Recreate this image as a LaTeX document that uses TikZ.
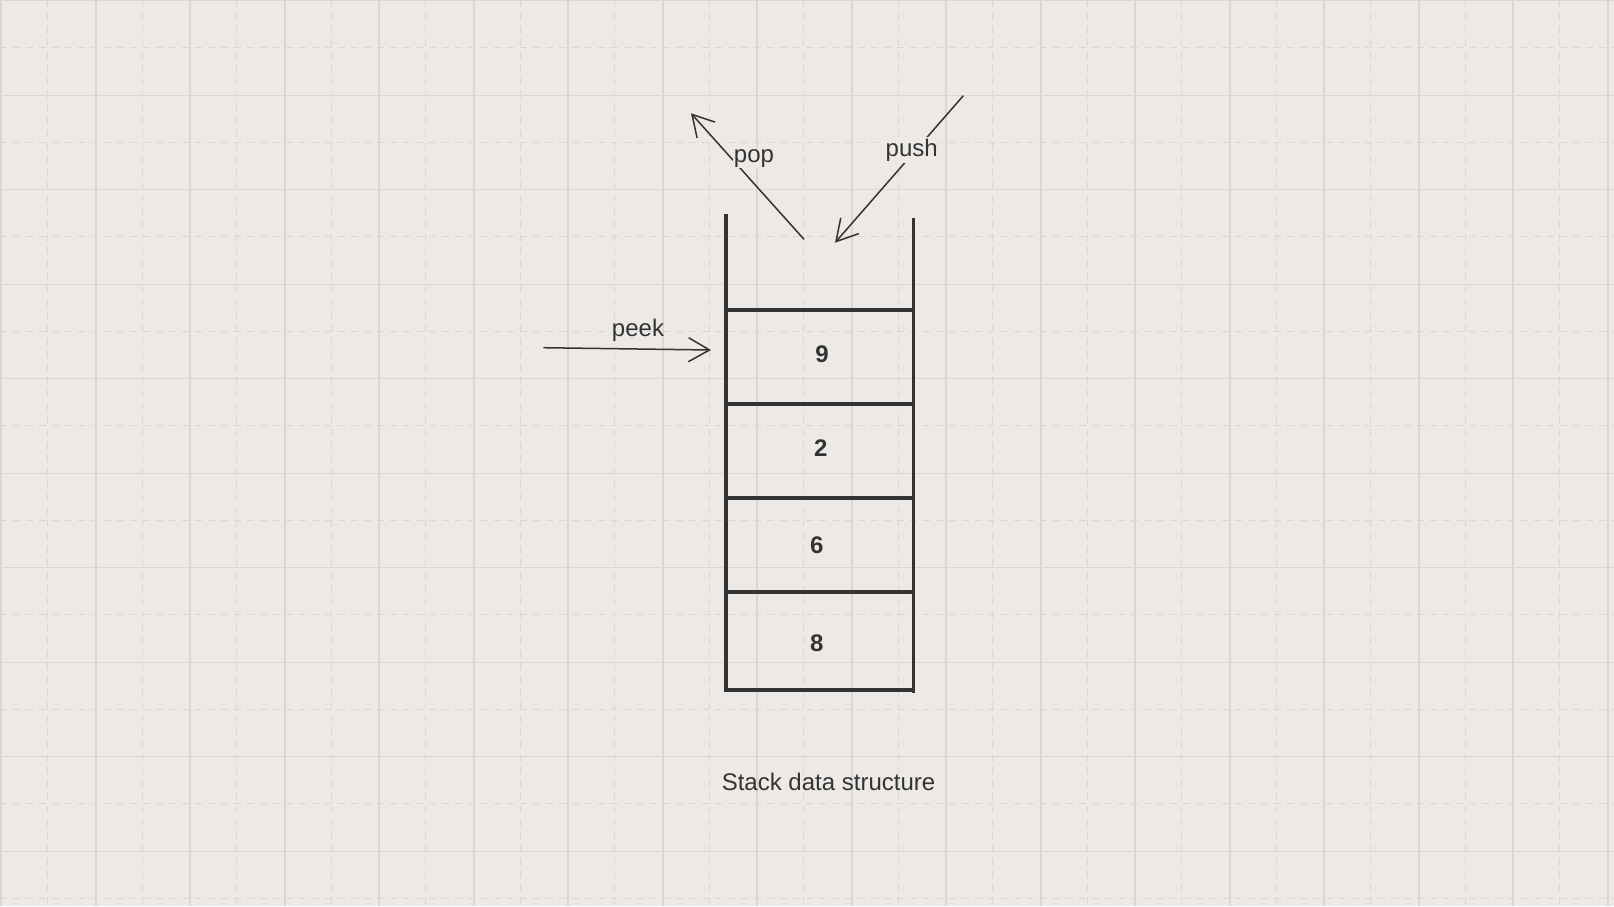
\documentclass[tikz,border=0pt]{standalone}
\usepackage{fontspec}
\setmainfont{Liberation Sans}
\usetikzlibrary{arrows.meta}
\definecolor{bg}{HTML}{ECE9E6}
\definecolor{gridc}{HTML}{D9D6D4}
\definecolor{ink}{HTML}{333333}
\begin{document}
\begin{tikzpicture}[x=1pt,y=-1pt,
  wall/.style={draw=ink,line width=3.2pt,line join=miter},
  arr/.style={draw=ink,line width=1.5pt,-{Straight Barb[length=21pt,width=24pt,line width=1.5pt]}},
  lbl/.style={text=ink,font=\fontsize{24}{28}\selectfont,inner sep=1pt},
  num/.style={text=ink,font=\bfseries\fontsize{24}{28}\selectfont,inner sep=0pt},
  gridsolid/.style={draw=gridc,line width=1.4pt},
  griddash/.style={draw=gridc,line width=1.2pt,dash pattern=on 7pt off 6pt}]
\useasboundingbox (0,0) rectangle (1614,906);
\fill[bg] (0,0) rectangle (1614,906);
% grid
\foreach \i in {0,...,17}{
  \pgfmathsetmacro\xs{round(94.5*\i)+1}
  \pgfmathsetmacro\xd{round(94.5*\i+47.25)+0.5}
  \draw[griddash] (\xd,0) -- ++(0,906);
  \draw[gridsolid] (\xs,0) -- ++(0,906);
}
\foreach \j in {0,...,9}{
  \pgfmathsetmacro\ys{round(94.5*\j)+0.5}
  \pgfmathsetmacro\yd{round(94.5*\j+47.25)+0.5}
  \draw[griddash] (0,\yd) -- ++(1614,0);
  \draw[gridsolid] (0,\ys) -- ++(1614,0);
}
% stack
\coordinate (lt) at (726,214);
\coordinate (lb) at (726,690);
\coordinate (rt) at (913.7,218);
\coordinate (rb) at (913.7,693);
\draw[wall] (lt) -- (lb) -- (913.7,690);
\draw[wall] (rt) -- (rb);
\foreach \y in {310,404,498,592}{
  \draw[wall] (726,\y) -- (913.7,\y);
}
\node[num] (n9) at (822,353.8) {9};
\node[num] (n2) at (820.7,447.7) {2};
\node[num] (n6) at (816.7,545.7) {6};
\node[num] (n8) at (816.7,643.3) {8};
% pop
\coordinate (popS) at (804,239.3);
\coordinate (popE) at (691,113.3);
\draw[arr] (popS) -- (popE);
\node[lbl,fill=bg,inner sep=0.5pt] (popL) at (754,158.3) {pop};
% push
\coordinate (pushS) at (963.3,95.7);
\coordinate (pushE) at (835,242.7);
\draw[arr] (pushS) -- (pushE);
\node[lbl,fill=bg,inner sep=2pt] (pushL) at (911.7,150) {push};
% peek
\coordinate (peekS) at (543.3,347.7);
\coordinate (peekE) at (711,350);
\draw[arr] (peekS) -- (peekE);
\node[lbl] (peekL) at (638,330) {peek};
% caption
\node[lbl] (cap) at (828.5,781.7) {Stack data structure};
\end{tikzpicture}
\end{document}
